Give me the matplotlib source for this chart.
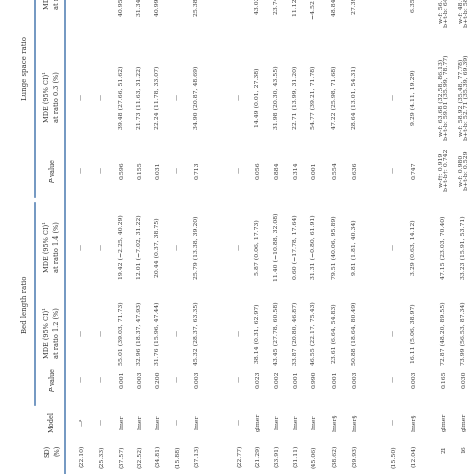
import matplotlib
matplotlib.use("Agg")
import matplotlib.pyplot as plt

plt.rcParams['font.family'] = ['DejaVu Serif']

# table rows (top to bottom in the original table), placed left to right in the rotated picture
row_x = [82, 102, 122, 140, 158, 178, 197, 240, 258, 277, 296, 314, 335, 355, 394, 414, 444, 464]
D = "\u2014"
sd_col = ["(22.10)", "(25.33)", "(37.57)", "(32.52)", "(34.81)", "(15.88)", "(37.13)", "(22.77)",
          "(21.29)", "(33.91)", "(31.11)", "(45.06)", "(38.62)", "(39.93)", "(15.50)", "(12.04)",
          "21", "16"]
model = [D + "\u1d43", D, "lmer", "lmer", "lmer", D, "lmer", D, "glmer", "lmer", "lmer", "lmer",
         "lmer\u00a7", "lmer\u00a7", D, "lmer\u00a7", "glmer", "glmer"]
bed_p = [D, D, "0.001", "0.003", "0.200", D, "0.003", D, "0.023", "0.002", "0.001", "0.990",
         "0.001", "0.003", D, "0.003", "0.165", "0.030"]
bed_12 = [D, D, "55.01 (39.03, 71.73)", "32.96 (18.37, 47.93)", "31.76 (15.96, 47.44)", D,
          "45.32 (28.37, 63.35)", D, "38.14 (0.31, 62.97)", "43.45 (27.78, 60.58)",
          "33.87 (20.80, 46.87)", "46.55 (22.17, 75.43)", "23.61 (6.64, 54.83)",
          "50.88 (18.64, 80.49)", D, "16.11 (5.06, 38.97)", "72.87 (48.20, 89.55)",
          "73.99 (56.53, 87.34)"]
bed_14 = [D, D, "19.42 (\u22122.25, 40.29)", "12.01 (\u22127.02, 31.22)", "20.44 (0.37, 38.75)", D,
          "25.79 (13.38, 39.20)", D, "5.87 (0.06, 17.73)", "11.40 (\u221210.88, 32.08)",
          "0.60 (\u221217.78, 17.64)", "31.31 (\u22120.80, 61.91)", "79.51 (40.06, 95.89)",
          "9.81 (1.81, 40.34)", D, "3.29 (0.63, 14.12)", "47.15 (23.03, 70.40)",
          "33.23 (15.91, 53.71)"]
lunge_p = [D, D, "0.596", "0.155", "0.031", D, "0.713", D, "0.056", "0.884", "0.314", "0.001",
           "0.554", "0.636", D, "0.747",
           "w-f\u2020: 0.919\nb+t-b\u2020: 0.742", "w-f: 0.980\nb+t-b: 0.529"]
lunge_03 = [D, D, "39.48 (27.66, 51.62)", "21.73 (11.63, 31.22)", "22.24 (11.78, 33.07)", D,
            "34.90 (20.87, 48.69)", D, "14.49 (0.01, 27.38)", "31.98 (20.30, 43.55)",
            "22.71 (13.99, 31.20)", "54.77 (39.21, 71.78)", "47.22 (25.98, 71.68)",
            "28.64 (13.01, 54.31)", D, "9.29 (4.11, 19.29)",
            "w-f: 63.68 (32.58, 86.13)\nb+t-b: 59.01 (35.99, 78.77)",
            "w-f: 58.92 (35.48, 77.78)\nb+t-b: 52.71 (35.39, 69.39)"]
lunge_last = [D, D, "40.95 (12.40, 65.10)", "31.34 (12.80, 50.20)", "40.99 (20.50, 61.30)", D,
              "25.38 (\u22121.20, 50.10)", D, "43.03 (0.40, 75.10)", "23.74 (0.60, 47.10)",
              "11.12 (\u22128.40, 31.00)", "\u22124.52 (\u221225.10, 16.30)", "48.84 (12.30, 80.10)",
              "27.39 (5.20, 63.40)", D, "6.35 (1.20, 25.10)",
              "w-f: 56.93 (24.10, 84.20)\nb+t-b: 64.80 (40.10, 84.30)",
              "w-f: 48.94 (26.10, 71.20)\nb+t-b: 58.90 (40.20, 75.40)"]

# column centres along the picture's height
cols = [(lunge_last, -16), (lunge_03, 97), (lunge_p, 170), (bed_14, 247), (bed_12, 333),
        (bed_p, 379), (model, 422)]

fig = plt.figure(figsize=(4.74, 4.74), dpi=100)
ax = fig.add_axes([0, 0, 1, 1])
ax.set_xlim(0, 474)
ax.set_ylim(474, 0)
ax.axis("off")

fs = 4.4
tc = "#333333"
for vals, yc in cols:
    for x, v in zip(row_x, vals):
        ax.text(x, yc, v, rotation=90, ha="center", va="center", fontsize=fs, color=tc,
                linespacing=1.0, clip_on=True)
for x, v in zip(row_x, sd_col):
    ax.text(x, 445, v, rotation=90, ha="center", va="top", fontsize=fs, color=tc, clip_on=True)

# headers
ax.text(25, 68, "Lunge space ratio", rotation=90, ha="center", va="center", fontsize=fs + 0.6, color=tc)
ax.text(25, 304, "Bed length ratio", rotation=90, ha="center", va="center", fontsize=fs + 0.6, color=tc)
hdr = [(-16, "MDE (95% CI)\u00b9", "at ratio 1.4 (%)"), (97, "MDE (95% CI)\u00b9", "at ratio 0.3 (%)"),
       (247, "MDE (95% CI)\u00b9", "at ratio 1.4 (%)"), (333, "MDE (95% CI)\u00b9", "at ratio 1.2 (%)")]
for yc, l1, l2 in hdr:
    ax.text(47, yc, l1, rotation=90, ha="center", va="center", fontsize=fs + 0.3, color=tc, clip_on=True)
    ax.text(57, yc, l2, rotation=90, ha="center", va="center", fontsize=fs + 0.3, color=tc, clip_on=True)
for yc in (170, 379):
    ax.text(52, yc, "$P$-value", rotation=90, ha="center", va="center", fontsize=fs + 0.3, color=tc)
ax.text(52, 422, "Model", rotation=90, ha="center", va="center", fontsize=fs + 0.3, color=tc)
ax.text(47, 445, "SD)", rotation=90, ha="center", va="top", fontsize=fs + 0.3, color=tc, clip_on=True)
ax.text(57, 445, "(%)", rotation=90, ha="center", va="top", fontsize=fs + 0.3, color=tc, clip_on=True)

blue = "#5b86b8"
ax.plot([35, 35], [0, 197], color=blue, lw=1.2)
ax.plot([35, 35], [203, 405], color=blue, lw=1.2)
ax.plot([65, 65], [0, 474], color=blue, lw=1.2)

fig.savefig("out.png", dpi=100)
